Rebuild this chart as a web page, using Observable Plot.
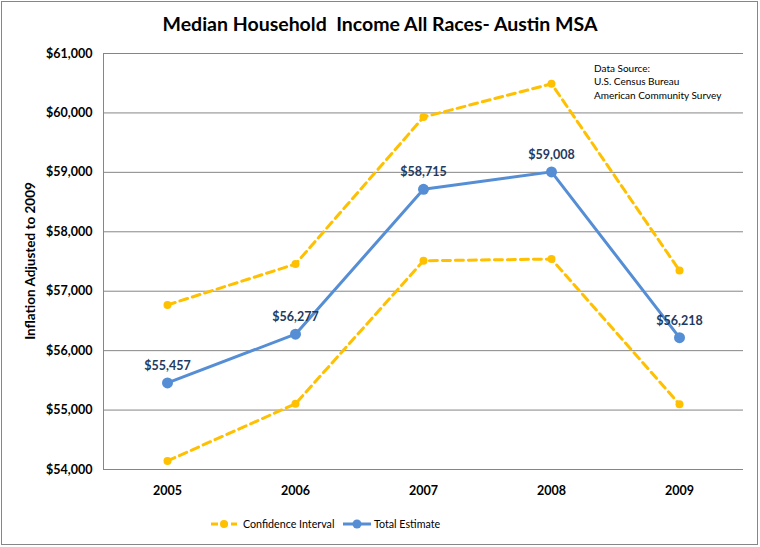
<!DOCTYPE html>
<html><head><meta charset="utf-8">
<script src="https://cdn.jsdelivr.net/npm/d3@7"></script>
<script src="https://cdn.jsdelivr.net/npm/@observablehq/plot@0.6"></script>
<style>body{margin:0;background:#fff;} svg{display:block;}</style>
</head><body><div id="chart"></div>
<script>
const years = [2005, 2006, 2007, 2008, 2009];
const totalEstimate = [55457, 56277, 58715, 59008, 56218];
const upperCI = [56770, 57457, 59930, 60490, 57349];
const lowerCI = [54145, 55106, 57513, 57541, 55096];
const yTicks = [54000, 55000, 56000, 57000, 58000, 59000, 60000, 61000];
const title = "Median Household  Income All Races- Austin MSA";
const yLabel = "Inflation Adjusted to 2009";
const sourceLines = ["Data Source:", "U.S. Census Bureau", "American Community Survey"];
const seriesNames = ["Confidence Interval", "Total Estimate"];

const FONT = "Lato, 'Open Sans', sans-serif";
const GOLD = "#FFC000";
const BLUE = "#558ED5";
const GRID = "#868686";

const total = years.map((y, i) => ({year: y, value: totalEstimate[i]}));
const upper = years.map((y, i) => ({year: y, value: upperCI[i]}));
const lower = years.map((y, i) => ({year: y, value: lowerCI[i]}));

const chart = Plot.plot({
  width: 760, height: 547,
  marginLeft: 103, marginRight: 17, marginTop: 53, marginBottom: 78,
  style: {fontFamily: FONT, background: "#fff", overflow: "visible"},
  x: {type: "linear", domain: [years[0] - 0.5, years[years.length - 1] + 0.5], axis: null},
  y: {domain: [yTicks[0], yTicks[yTicks.length - 1]], axis: null},
  marks: [
    Plot.ruleY(yTicks, {stroke: GRID, strokeWidth: 1}),
    Plot.ruleX([years[0] - 0.5], {stroke: GRID, strokeWidth: 1}),
    Plot.axisY({ticks: yTicks, tickSize: 0, tickPadding: 11, tickFormat: d3.format("$,"),
      fontSize: 12.5, fontWeight: "bold", label: null}),
    Plot.axisX({ticks: years, tickSize: 0, tickPadding: 17, tickFormat: d => String(d),
      fontSize: 12.5, fontWeight: "bold", label: null}),
    Plot.line(upper, {x: "year", y: "value", stroke: GOLD, strokeWidth: 3, strokeDasharray: "8,5"}),
    Plot.line(lower, {x: "year", y: "value", stroke: GOLD, strokeWidth: 3, strokeDasharray: "8,5"}),
    Plot.dot(upper, {x: "year", y: "value", r: 4, fill: GOLD}),
    Plot.dot(lower, {x: "year", y: "value", r: 4, fill: GOLD}),
    Plot.line(total, {x: "year", y: "value", stroke: BLUE, strokeWidth: 3}),
    Plot.dot(total, {x: "year", y: "value", r: 5.5, fill: BLUE}),
    Plot.text(total, {x: "year", y: "value", text: d => d3.format("$,")(d.value), dy: -17,
      fill: "#1F3A5F", fontSize: 12.5, fontWeight: "bold"})
  ]
});

const svg = d3.select(chart);
// outer border
svg.append("rect").attr("x", 1.5).attr("y", 1.5).attr("width", 756).attr("height", 543)
  .attr("fill", "none").attr("stroke", GRID).attr("stroke-width", 1);
// title
svg.append("text").attr("x", 380).attr("y", 31).attr("text-anchor", "middle")
  .attr("font-family", FONT).attr("font-size", 19.5).attr("font-weight", "bold")
  .attr("fill", "#000").style("white-space", "pre").text(title);
// y label
svg.append("text").attr("transform", "translate(35,261) rotate(-90)").attr("text-anchor", "middle")
  .attr("font-family", FONT).attr("font-size", 13.5).attr("font-weight", "bold").attr("fill", "#000").text(yLabel);
// data source
sourceLines.forEach((t, i) => {
  svg.append("text").attr("x", 594).attr("y", 72 + i * 13.3).attr("text-anchor", "start")
    .attr("font-family", FONT).attr("font-size", 10).attr("fill", "#000").text(t);
});
// legend
const lg = svg.append("g").attr("font-family", FONT).attr("font-size", 10.7).attr("fill", "#000")
  .attr("text-anchor", "start");
lg.append("path").attr("d", "M211,524H237")
  .attr("fill", "none").attr("stroke", GOLD).attr("stroke-width", 3).attr("stroke-dasharray", "7,3");
lg.append("circle").attr("cx", 224).attr("cy", 524).attr("r", 4).attr("fill", GOLD);
lg.append("text").attr("x", 243).attr("y", 528).attr("text-anchor", "start").text(seriesNames[0]);
lg.append("path").attr("d", "M343,524H371")
  .attr("fill", "none").attr("stroke", BLUE).attr("stroke-width", 3);
lg.append("circle").attr("cx", 357).attr("cy", 524).attr("r", 4.5).attr("fill", BLUE);
lg.append("text").attr("x", 374).attr("y", 528).attr("text-anchor", "start").text(seriesNames[1]);

document.getElementById("chart").appendChild(chart);
</script>
</body></html>
